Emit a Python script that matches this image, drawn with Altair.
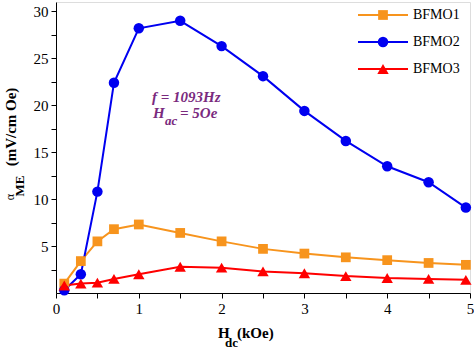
import altair as alt
import pandas as pd

# ---- data ----
h_dc = [0.1, 0.3, 0.5, 0.7, 1.0, 1.5, 2.0, 2.5, 3.0, 3.5, 4.0, 4.5, 4.95]
bfmo1 = [1.0, 3.4, 5.5, 6.8, 7.3, 6.4, 5.5, 4.7, 4.2, 3.8, 3.5, 3.2, 3.0]
bfmo2 = [0.3, 2.0, 10.8, 22.4, 28.2, 29.0, 26.3, 23.1, 19.4, 16.2, 13.5, 11.8, 9.1]
bfmo3 = [0.8, 1.0, 1.1, 1.5, 2.0, 2.8, 2.7, 2.3, 2.1, 1.8, 1.6, 1.5, 1.4]

series = ["BFMO1", "BFMO2", "BFMO3"]
colors = ["#F7941D", "#0000F0", "#FF0000"]
shapes = ["square", "circle", "triangle-up"]
sizes = [95, 110, 130]

x_ticks = [0, 0.5, 1, 1.5, 2, 2.5, 3, 3.5, 4, 4.5, 5]
y_ticks = [2.5, 5, 7.5, 10, 12.5, 15, 17.5, 20, 22.5, 25, 27.5, 30]

rows = []
for name, vals in zip(series, [bfmo1, bfmo2, bfmo3]):
    for h, v in zip(h_dc, vals):
        rows.append({"H": h, "alpha": v, "series": name})
df = pd.DataFrame(rows)

SERIF = "Liberation Serif"
W, H = 414, 291

x_enc = alt.X("H:Q", scale=alt.Scale(domain=[0, 5], nice=False, zero=False),
              axis=alt.Axis(values=x_ticks, title=None,
                            labelExpr="datum.value % 1 === 0 ? format(datum.value, 'd') : ''",
                            labelOverlap=False,
                            labelFont=SERIF, labelFontSize=15, labelColor="black",
                            labelPadding=3, tickSize=5, tickColor="black",
                            domainColor="black", grid=False, labelFlush=False))
y_enc = alt.Y("alpha:Q", scale=alt.Scale(domain=[0, 31], nice=False, zero=False),
              axis=alt.Axis(values=y_ticks, title=None,
                            labelExpr="datum.value % 5 === 0 ? format(datum.value, 'd') : ''",
                            labelOverlap=False, labelFlush=False,
                            labelFont=SERIF, labelFontSize=15, labelColor="black",
                            labelPadding=3, tickSize=5, tickColor="black",
                            domainColor="black", grid=False))
color_enc = alt.Color("series:N", scale=alt.Scale(domain=series, range=colors), legend=None)

lines = alt.Chart(df).mark_line(strokeWidth=2).encode(x=x_enc, y=y_enc, color=color_enc, detail="series:N")

point_layers = []
for name, shp, sz in zip(series, shapes, sizes):
    point_layers.append(
        alt.Chart(df[df["series"] == name]).mark_point(filled=True, opacity=1, shape=shp, size=sz)
        .encode(x=x_enc, y=y_enc, color=color_enc)
    )

one = pd.DataFrame({"k": [0]})


def txt(text, x, y, size=15, weight="bold", style="normal", color="black", align="left", angle=0):
    return alt.Chart(one).mark_text(text=text, font=SERIF, fontSize=size, fontWeight=weight,
                                    fontStyle=style, color=color, align=align, baseline="middle",
                                    angle=angle).encode(x=alt.value(x), y=alt.value(y))


# legend (manual, top-right inside plot)
legend_layers = []
for i, (name, col, shp, sz) in enumerate(zip(series, colors, shapes, sizes)):
    yy = 13 + 27 * i
    legend_layers.append(alt.Chart(one).mark_rule(color=col, strokeWidth=2)
                         .encode(x=alt.value(302), x2=alt.value(352), y=alt.value(yy)))
    legend_layers.append(alt.Chart(one).mark_point(filled=True, opacity=1, shape=shp, size=sz, color=col)
                         .encode(x=alt.value(327), y=alt.value(yy)))
    legend_layers.append(txt(name, 357, yy, size=14, weight="normal"))

purple = "#7A2A7E"
annot = [
    txt("f = 1093Hz", 96, 95, size=15, style="italic", color=purple),
    txt("H", 97, 111, size=15, style="italic", color=purple),
    txt("ac", 109, 119, size=13, style="italic", color=purple),
    txt("= 5Oe", 124, 111, size=15, style="italic", color=purple),
]

titles = [
    txt("H", 162, 331, size=15),
    txt("dc", 169, 341, size=13),
    txt("(kOe)", 181, 331, size=15),
    txt("α", -46, 195, size=12, weight="normal", align="center", angle=270),
    txt("ME", -36, 184, size=13, align="center", angle=270),
    txt("(mV/cm Oe)", -45, 125, size=15, align="center", angle=270),
]

chart = alt.layer(lines, *point_layers, *legend_layers, *annot, *titles).properties(
    width=W, height=H,
    autosize=alt.AutoSizeParams(type="none"),
    padding={"left": 56, "top": 2, "right": 4, "bottom": 58},
).configure_view(stroke="#222", strokeWidth=1.4).configure(background="white")

chart.save("out.html", embed_options={"renderer": "svg", "actions": False})
